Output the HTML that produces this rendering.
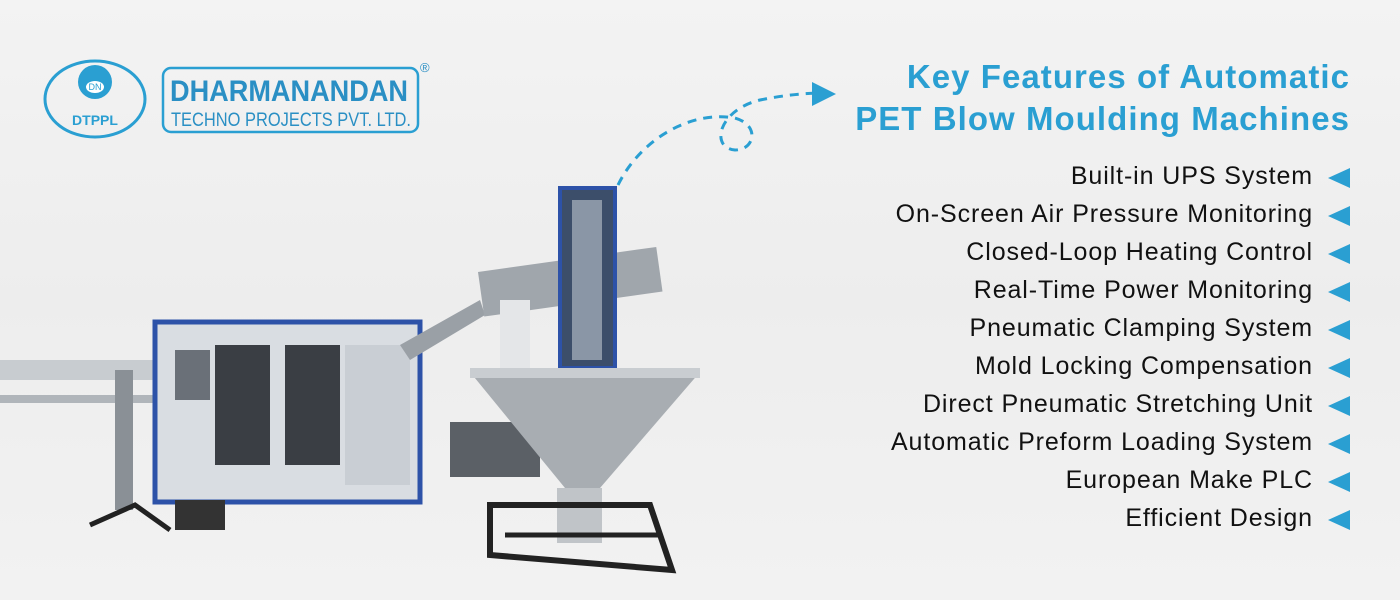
<!DOCTYPE html>
<html><head><style>
body{margin:0;width:1400px;height:600px;overflow:hidden;background:linear-gradient(180deg,#f3f3f3,#ededed 50%,#f2f2f2);font-family:"Liberation Sans",sans-serif;position:relative}
.t{position:absolute;right:50px;color:#2a9fd2;font-weight:bold;font-size:33px;letter-spacing:1.05px;text-align:right}
.li{position:absolute;right:87px;font-size:25px;letter-spacing:0.9px;color:#111;text-align:right;white-space:nowrap}
.ar{position:absolute;left:1328px;width:0;height:0;border-top:10px solid transparent;border-bottom:10px solid transparent;border-right:22px solid #2a9fd2}
</style></head><body>
<svg width="1400" height="600" style="position:absolute;left:0;top:0">
 <ellipse cx="95" cy="99" rx="50" ry="38" fill="none" stroke="#2a9fd2" stroke-width="3"/>
 <circle cx="95" cy="82" r="17" fill="#2a9fd2"/>
 <ellipse cx="95" cy="87" rx="9" ry="6" fill="#fff"/>
 <text x="95" y="90" font-size="9" text-anchor="middle" fill="#2a9fd2" font-family="Liberation Sans">DN</text>
 <text x="95" y="125" font-size="14" font-weight="bold" text-anchor="middle" fill="#2a9fd2" font-family="Liberation Sans">DTPPL</text>
 <rect x="163" y="68" width="255" height="64" rx="8" fill="none" stroke="#2a9fd2" stroke-width="2.5"/>
 <text x="170" y="101" font-size="30" font-weight="bold" fill="#2a8fc4" font-family="Liberation Sans" textLength="238" lengthAdjust="spacingAndGlyphs">DHARMANANDAN</text>
 <text x="171" y="126" font-size="19" fill="#2a8fc4" font-family="Liberation Sans" textLength="240" lengthAdjust="spacingAndGlyphs">TECHNO PROJECTS PVT. LTD.</text>
 <text x="420" y="72" font-size="13" fill="#2a8fc4">®</text>
 <path d="M618 185 C640 140 690 110 735 118 C760 125 755 150 735 150 C710 148 718 110 760 100 C785 95 805 93 825 93" fill="none" stroke="#2a9fd2" stroke-width="3" stroke-dasharray="9 7"/>
 <polygon points="812,82 836,94 812,106" fill="#2a9fd2"/>
 <rect x="0" y="360" width="170" height="20" fill="#c8ccd0"/>
 <rect x="0" y="395" width="160" height="8" fill="#b0b5ba"/>
 <rect x="115" y="370" width="18" height="140" fill="#8a9096"/>
 <path d="M90 525 L135 505 L170 530" stroke="#222" stroke-width="5" fill="none"/>
 <rect x="155" y="322" width="265" height="180" fill="#d9dde2" stroke="#2d52a8" stroke-width="5"/>
 <rect x="215" y="345" width="55" height="120" fill="#3a3e44"/>
 <rect x="285" y="345" width="55" height="120" fill="#3a3e44"/>
 <rect x="345" y="345" width="65" height="140" fill="#c9ced4"/>
 <rect x="175" y="350" width="35" height="50" fill="#6a7078"/>
 <rect x="175" y="500" width="50" height="30" fill="#333"/>
 <path d="M400 345 L480 300 L485 315 L410 360Z" fill="#9aa0a6"/>
 <rect x="478" y="272" width="180" height="45" fill="#a0a6ac" transform="rotate(-8 478 272)"/>
 <rect x="500" y="300" width="30" height="70" fill="#e4e6e8"/>
 <rect x="560" y="188" width="55" height="180" fill="#3c4e6a" stroke="#2d52a8" stroke-width="4"/>
 <rect x="572" y="200" width="30" height="160" fill="#8a96a6"/>
 <rect x="450" y="422" width="90" height="55" fill="#5b6066"/>
 <polygon points="470,372 700,372 600,488 565,488" fill="#a8adb2"/>
 <rect x="470" y="368" width="230" height="10" fill="#c9cdd1"/>
 <rect x="557" y="488" width="45" height="55" fill="#c0c4c8"/>
 <path d="M490 505 L650 505 L672 570 L490 555Z" fill="none" stroke="#222" stroke-width="6"/>
 <path d="M505 535 L660 535" stroke="#222" stroke-width="5"/>
</svg>
<div class="t" style="top:58px">Key Features of Automatic</div>
<div class="t" style="top:100px">PET Blow Moulding Machines</div>
<div class="li" style="top:162px">Built-in UPS System</div><div class="ar" style="top:168px"></div>
<div class="li" style="top:200px">On-Screen Air Pressure Monitoring</div><div class="ar" style="top:206px"></div>
<div class="li" style="top:238px">Closed-Loop Heating Control</div><div class="ar" style="top:244px"></div>
<div class="li" style="top:276px">Real-Time Power Monitoring</div><div class="ar" style="top:282px"></div>
<div class="li" style="top:314px">Pneumatic Clamping System</div><div class="ar" style="top:320px"></div>
<div class="li" style="top:352px">Mold Locking Compensation</div><div class="ar" style="top:358px"></div>
<div class="li" style="top:390px">Direct Pneumatic Stretching Unit</div><div class="ar" style="top:396px"></div>
<div class="li" style="top:428px">Automatic Preform Loading System</div><div class="ar" style="top:434px"></div>
<div class="li" style="top:466px">European Make PLC</div><div class="ar" style="top:472px"></div>
<div class="li" style="top:504px">Efficient Design</div><div class="ar" style="top:510px"></div>
</body></html>
